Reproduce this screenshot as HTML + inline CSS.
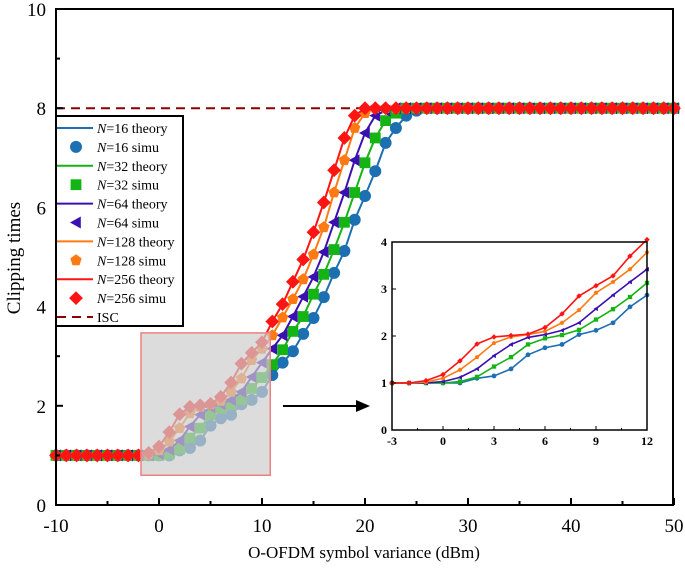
<!DOCTYPE html>
<html><head><meta charset="utf-8"><style>
body{margin:0;background:#fff}
svg{display:block;font-family:"Liberation Serif",serif}
</style></head><body>
<svg id="c" width="685" height="573"></svg>
<script>
const xsInset=[-3,-2,-1,0,1,2,3,4,5,6,7,8,9,10,11,12];
const n16=[1,1,1,1,1,1.1,1.15,1.3,1.6,1.75,1.82,2.03,2.12,2.28,2.62,2.87,3.1,3.45,3.77,4.19,4.68,5.12,5.75,6.23,6.73,7.3,7.6,7.85,7.95,8];
const n32=[1,1,1,1,1.03,1.13,1.35,1.55,1.82,1.95,2.02,2.13,2.35,2.57,2.83,3.13,3.5,3.8,4.25,4.65,5.15,5.7,6.3,6.9,7.4,7.75,7.9,8];
const n64=[1,1,1,1.03,1.12,1.3,1.58,1.82,1.97,2.03,2.12,2.28,2.58,2.87,3.15,3.42,3.8,4.2,4.6,5.1,5.7,6.3,6.95,7.5,7.85,7.95,8];
const n128=[1,1,1.02,1.1,1.28,1.55,1.85,1.98,2.03,2.1,2.28,2.55,2.92,3.15,3.42,3.78,4.15,4.55,5.05,5.6,6.3,6.95,7.6,7.9,8];
const n256=[1,1,1.05,1.18,1.47,1.83,1.98,2.01,2.04,2.18,2.47,2.85,3.07,3.28,3.7,4.05,4.5,4.95,5.5,6.1,6.75,7.4,7.85,8];
const seriesNames=["N=16","N=32","N=64","N=128","N=256"];
const colors=["#1c6fb0","#14b414","#3b10b0","#ff7a12","#ff1414"];
const shapes=["circle","square","triangle","pentagon","diamond"];
const xTicks=[-10,0,10,20,30,40,50];
const yTicks=[0,2,4,6,8,10];
const insetXTicks=[-3,0,3,6,9,12];
const insetYTicks=[0,1,2,3,4];
const iscLevel=8;

const NS="http://www.w3.org/2000/svg";
const svg=document.getElementById('c');
function el(t,a,p){const e=document.createElementNS(NS,t);for(const k in a)e.setAttribute(k,a[k]);(p||svg).appendChild(e);return e;}
function full(arr){const out=[];for(let x=-10;x<=50;x++){let v;if(x<-3)v=1;else{const i=x+3;v=i<arr.length?arr[i]:8;}out.push([x,v]);}return out;}
const X=v=>56+(v+10)*10.3, Y=v=>505-v*49.6;
const IX=v=>392+(v+3)*17, IY=v=>430-v*47;
function marker(g,shape,cx,cy,r,col){
  let e;
  if(shape==="circle")e=el('circle',{cx,cy,r,fill:col},g);
  else if(shape==="square")e=el('rect',{x:cx-r*0.9,y:cy-r*0.9,width:r*1.8,height:r*1.8,fill:col},g);
  else if(shape==="triangle")e=el('polygon',{points:`${cx-r},${cy} ${cx+r*0.8},${cy-r} ${cx+r*0.8},${cy+r}`,fill:col},g);
  else if(shape==="pentagon"){let p=[];for(let k=0;k<5;k++){const a=-Math.PI/2+k*2*Math.PI/5;p.push((cx+r*Math.cos(a)).toFixed(1)+","+(cy+r*Math.sin(a)).toFixed(1));}e=el('polygon',{points:p.join(" "),fill:col},g);}
  else e=el('polygon',{points:`${cx},${cy-r*1.15} ${cx+r*1.15},${cy} ${cx},${cy+r*1.15} ${cx-r*1.15},${cy}`,fill:col},g);
  return e;
}
const all=[n16,n32,n64,n128,n256];
const isc=el('line',{x1:56,x2:673,y1:Y(iscLevel),y2:Y(iscLevel),stroke:"#8b0000","stroke-width":2,"stroke-dasharray":"9,6"});


all.forEach((arr,i)=>{
  const g=el('g',{});
  
  
  const pts=full(arr);
  el('polyline',{points:pts.map(p=>X(p[0])+","+Y(p[1])).join(" "),fill:"none",stroke:colors[i],"stroke-width":2},g);
  pts.forEach(p=>{const m=marker(g,shapes[i],X(p[0]),Y(p[1]),6,colors[i]);
    
    });
});
const zr=el('rect',{x:X(-1.75),y:Y(3.47),width:X(10.8)-X(-1.75),height:Y(0.6)-Y(3.47),fill:"rgba(205,205,205,0.7)",stroke:"#f08080","stroke-width":1.5});


const ax=el('rect',{x:56,y:Y(10),width:617,height:Y(0)-Y(10),fill:"none",stroke:"#000","stroke-width":2});


xTicks.forEach(t=>{el('line',{x1:X(t),x2:X(t),y1:505,y2:498,stroke:"#000","stroke-width":2});
  if(t<50)el('line',{x1:X(t+5),x2:X(t+5),y1:505,y2:501,stroke:"#000","stroke-width":2});
  const tx=el('text',{x:X(t),y:532,"font-size":19,"text-anchor":"middle"});tx.textContent=t;
  
  });
yTicks.forEach(t=>{el('line',{x1:56,x2:63,y1:Y(t),y2:Y(t),stroke:"#000","stroke-width":2});
  if(t<10)el('line',{x1:56,x2:60,y1:Y(t+1),y2:Y(t+1),stroke:"#000","stroke-width":2});
  const tx=el('text',{x:46,y:Y(t)+7,"font-size":19,"text-anchor":"end"});tx.textContent=t;
  
  });
const xt=el('text',{x:364,y:558,"font-size":17,"text-anchor":"middle"});xt.textContent="O-OFDM symbol variance (dBm)";


const yt=el('text',{x:0,y:0,"font-size":19,"text-anchor":"middle",transform:"translate(20,258) rotate(-90)"});yt.textContent="Clipping times";


const ar=el('g',{});


el('line',{x1:283,x2:360,y1:406,y2:406,stroke:"#000","stroke-width":2},ar);
el('polygon',{points:"370,406 356,400 356,412",fill:"#000"},ar);
const lg=el('g',{});


el('rect',{x:56,y:116,width:127,height:210,fill:"#fff",stroke:"#000","stroke-width":2},lg);
let row=0;
all.forEach((a,i)=>{
  const y1=128+row*18.9;
  el('line',{x1:57,x2:93,y1:y1,y2:y1,stroke:colors[i],"stroke-width":2},lg);
  const t1=el('text',{x:97,y:y1+5,"font-size":14},lg);t1.innerHTML=`<tspan font-style="italic">N</tspan>=${seriesNames[i].slice(2)} theory`;
  
  
  row++;
  const y2=128+row*18.9;
  marker(lg,shapes[i],76,y2,6,colors[i]);
  const t2=el('text',{x:97,y:y2+5,"font-size":14},lg);t2.innerHTML=`<tspan font-style="italic">N</tspan>=${seriesNames[i].slice(2)} simu`;
  
  
  row++;
});
const yI=128+row*18.9;
el('line',{x1:57,x2:93,y1:yI,y2:yI,stroke:"#8b0000","stroke-width":2,"stroke-dasharray":"9,6"},lg);
const ti=el('text',{x:97,y:yI+5,"font-size":14},lg);ti.textContent="ISC";


const ig=el('g',{});


el('rect',{x:392,y:242,width:255,height:188,fill:"#fff"},ig);
all.forEach((arr,i)=>{
  const pts=xsInset.map((x,k)=>[x,arr[k]]);
  el('polyline',{points:pts.map(p=>IX(p[0])+","+IY(p[1])).join(" "),fill:"none",stroke:colors[i],"stroke-width":1.6},ig);
  pts.forEach(p=>{const m=marker(ig,shapes[i],IX(p[0]),IY(p[1]),2.4,colors[i]);
    
    });
});
el('rect',{x:392,y:242,width:255,height:188,fill:"none",stroke:"#000","stroke-width":1.5},ig);
insetXTicks.forEach(t=>{el('line',{x1:IX(t),x2:IX(t),y1:430,y2:426,stroke:"#000"},ig);
  if(t<12)el('line',{x1:IX(t+1.5),x2:IX(t+1.5),y1:430,y2:428,stroke:"#000"},ig);
  const tx=el('text',{x:IX(t),y:445,"font-size":12,"font-weight":"bold","text-anchor":"middle"},ig);tx.textContent=t;
  
  });
insetYTicks.forEach(t=>{el('line',{x1:392,x2:396,y1:IY(t),y2:IY(t),stroke:"#000"},ig);
  const tx=el('text',{x:387,y:IY(t)+4,"font-size":12,"font-weight":"bold","text-anchor":"end"},ig);tx.textContent=t;
  
  });
</script>
</body></html>
